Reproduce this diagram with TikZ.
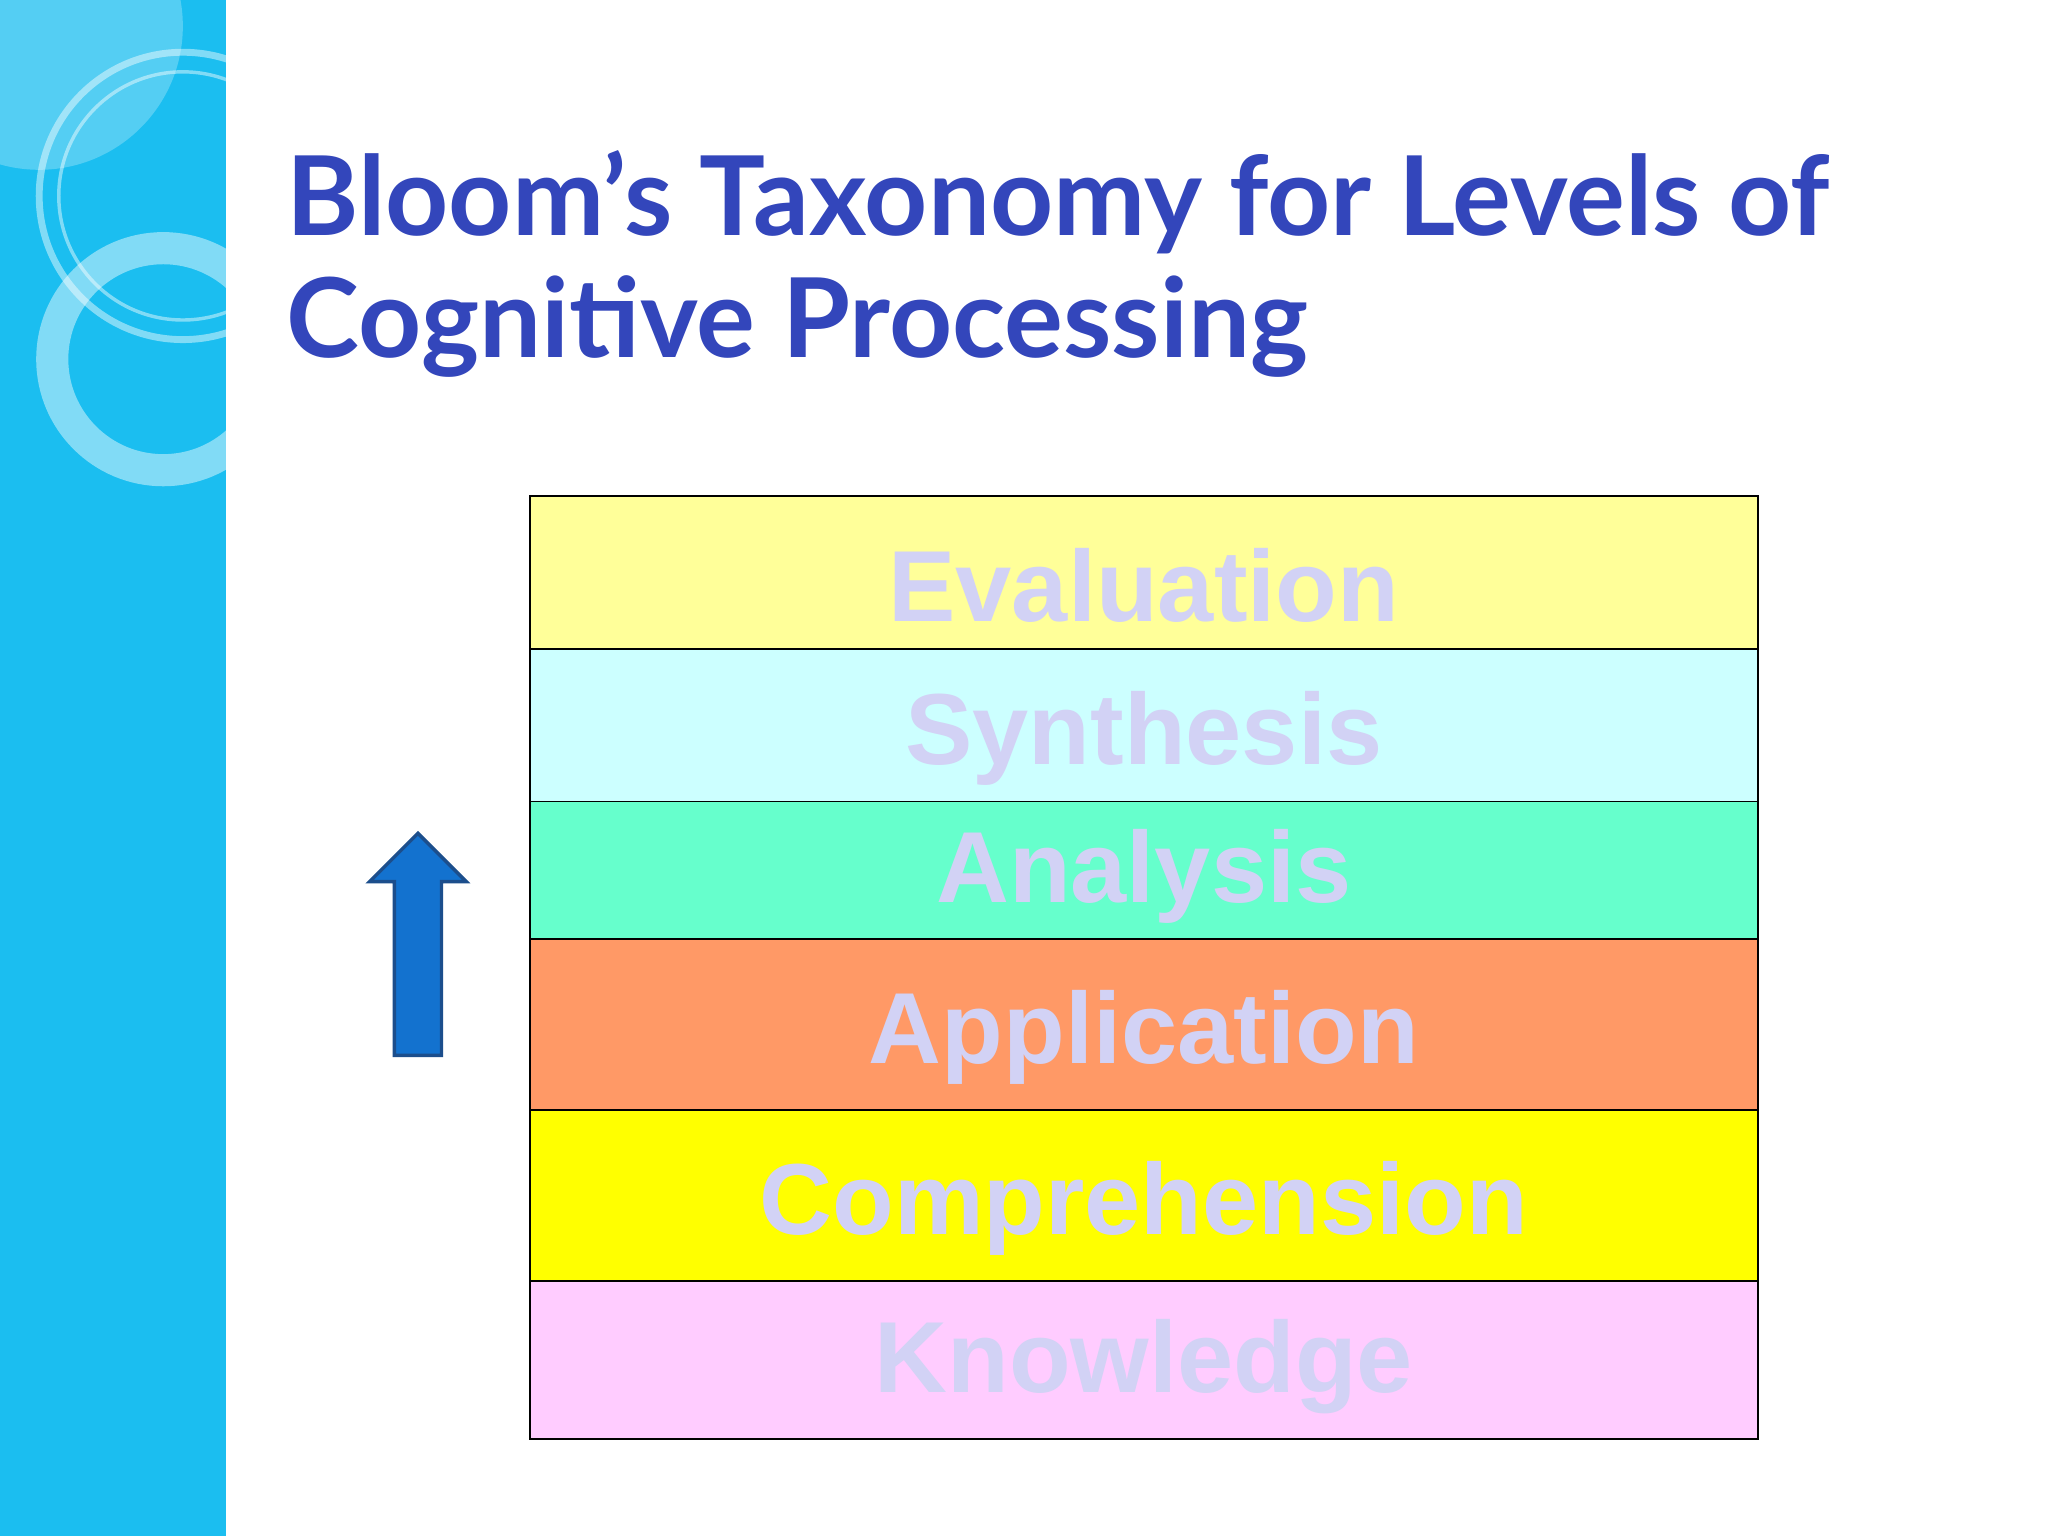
\documentclass[tikz,border=0pt]{standalone}
\usepackage{fontspec}
\setmainfont{Liberation Sans}
\newfontfamily\titlefont{Lato}
\definecolor{bar}{HTML}{1BBEF0}
\definecolor{ttl}{HTML}{3346BB}
\definecolor{lab}{HTML}{D2D2F5}
\definecolor{arrf}{HTML}{1372CF}
\definecolor{arrd}{HTML}{1C4E8C}
\begin{document}
\begin{tikzpicture}[x=0.02cm,y=-0.02cm,
  row/.style={draw=black,line width=0.8pt,minimum width=940*0.02cm,anchor=north west,inner sep=0},
  lbl/.style={font=\bfseries\fontsize{44}{50}\selectfont,text=lab},
  ring/.style={draw=white,opacity=0.45}]
\useasboundingbox (0,0) rectangle (1568,1176);
\fill[white] (0,0) rectangle (1568,1176);
\fill[bar] (0,0) rectangle (173,1176);
\begin{scope}
\clip (0,0) rectangle (173,1176);
\fill[white,opacity=0.25] (30,20) circle (110);
\draw[ring,line width=3pt] (140,150) circle (110);
\draw[ring,line width=1.5pt] (140,150) circle (95);
\draw[ring,line width=14pt] (125,275) circle (85);
\end{scope}
\node[anchor=base west,font=\titlefont\bfseries\fontsize{48}{56}\selectfont,text=ttl] (t1) at (213,180) {Bloom’s Taxonomy for Levels of};
\node[anchor=base west,font=\titlefont\bfseries\fontsize{48}{56}\selectfont,text=ttl] (t2) at (213,274) {Cognitive Processing};
\node[row,fill={rgb,255:red,255;green,255;blue,153},minimum height=117*0.02cm] (r1) at (405,379) {};
\node[row,fill={rgb,255:red,204;green,255;blue,255},minimum height=117*0.02cm] (r2) at (405,496) {};
\node[row,fill={rgb,255:red,102;green,255;blue,204},minimum height=105*0.02cm] (r3) at (405,613) {};
\node[row,fill={rgb,255:red,255;green,153;blue,102},minimum height=131*0.02cm] (r4) at (405,718) {};
\node[row,fill={rgb,255:red,255;green,255;blue,0},minimum height=131*0.02cm] (r5) at (405,849) {};
\node[row,fill={rgb,255:red,255;green,204;blue,255},minimum height=121*0.02cm] (r6) at (405,980) {};
\node[lbl] at ([yshift=-0.2cm]r1.center) {Evaluation};
\node[lbl] at ([yshift=-0.2cm]r2.center) {Synthesis};
\node[lbl] at ([yshift=-0.1cm]r3.center) {Analysis};
\node[lbl] at ([yshift=-0.2cm]r4.center) {Application};
\node[lbl] at ([yshift=-0.2cm]r5.center) {Comprehension};
\node[lbl] at ([yshift=-0.1cm]r6.center) {Knowledge};
\draw[fill=arrf,draw=arrd,line width=1.5pt] (302,808) -- (302,675) -- (283,675) -- (320,638) -- (357,675) -- (338,675) -- (338,808) -- cycle;
\end{tikzpicture}
\end{document}
